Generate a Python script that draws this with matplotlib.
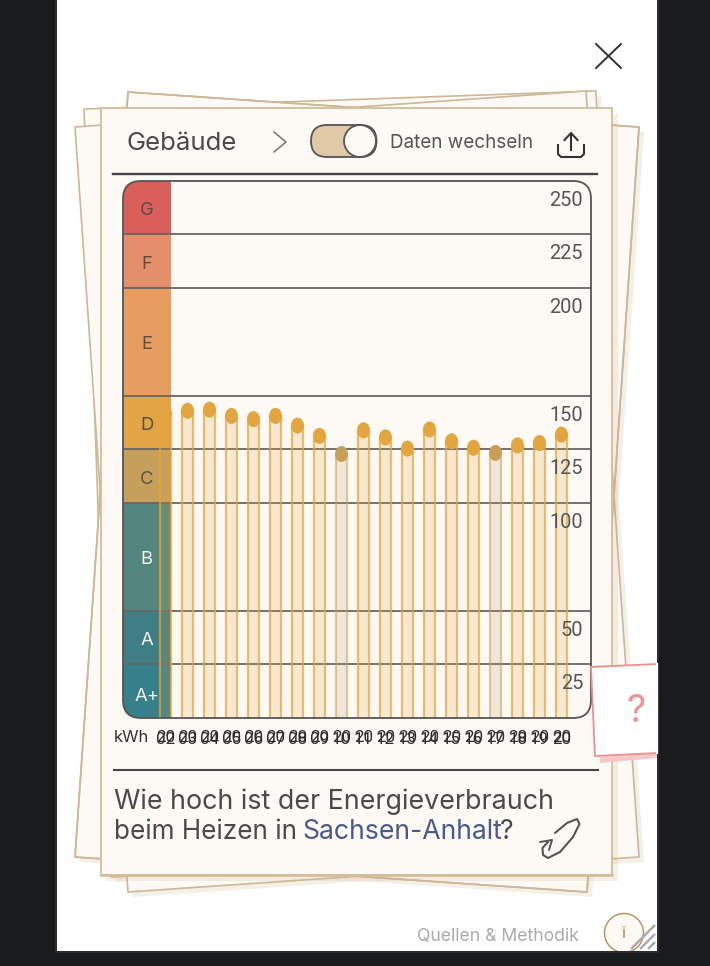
import matplotlib
matplotlib.use("Agg")
import matplotlib.pyplot as plt
from matplotlib.patches import Polygon, Rectangle, FancyBboxPatch, Circle, Ellipse, PathPatch
from matplotlib.path import Path
from matplotlib.transforms import blended_transform_factory

plt.rcParams['font.family'] = ['Inter', 'DejaVu Sans']
NUM_FONT = ['Roboto', 'DejaVu Sans']

# ---- data ----
years = [2002, 2003, 2004, 2005, 2006, 2007, 2008, 2009, 2010, 2011,
         2012, 2013, 2014, 2015, 2016, 2017, 2018, 2019, 2020]
values = [142, 142.9, 143.4, 140.5, 139, 140.5, 136, 131.2, 122.8, 133.8,
          130.5, 125.3, 134.2, 128.7, 125.7, 123.3, 126.8, 127.9, 131.8]
muted_years = [2010, 2017]
year_labels = ['02', '03', '04', '05', '06', '07', '08', '09', '10', '11',
               '12', '13', '14', '15', '16', '17', '18', '19', '20']
grades = ['A+', 'A', 'B', 'C', 'D', 'E', 'F', 'G']
grade_low = [0, 25, 50, 100, 125, 150, 200, 225]
grade_high = [25, 50, 100, 125, 150, 200, 225, 250]
grade_colors = ['#36808b', '#3f7e84', '#52867f', '#c6a05a', '#e3a544', '#e79c60', '#e58e6a', '#d9605a']
grade_text = ['#f4f1ea', '#f4f1ea', '#f4f1ea', '#5a5448', '#5a5040', '#5a5048', '#5a5048', '#5a4a44']
scale_ticks = [25, 50, 100, 125, 150, 200, 225, 250]

PAPER = '#fdf9f5'
EDGE = '#cdb796'
SHADOW = '#f4efe7'
DARK = '#4a4a4a'

fig = plt.figure(figsize=(7.10, 9.66), dpi=100, facecolor='#1a1b1d')

def overlay(z):
    a = fig.add_axes([0, 0, 1, 1], zorder=z)
    a.set_xlim(0, 710)
    a.set_ylim(966, 0)
    a.axis('off')
    a.patch.set_alpha(0)
    return a

bg = overlay(0)
fg = overlay(2)

# ---- page ----
bg.add_patch(Rectangle((55, 0), 604, 953, fc='#2c2c2e', ec='none'))
bg.add_patch(Rectangle((57, 0), 600, 951, fc='white', ec='none'))

papers = [
    [(84, 109), (596, 91), (623, 857), (111, 877)],
    [(128, 92), (639, 127), (587, 892), (75, 857)],
    [(75, 127), (586, 91), (639, 857), (128, 892)],
]
for p in papers:
    bg.add_patch(Polygon([(x + 5, y + 5) for x, y in p], fc=SHADOW, ec='none'))
for p in papers:
    bg.add_patch(Polygon(p, fc=PAPER, ec=EDGE, lw=1.2))
bg.add_patch(Polygon(papers[1], fc='none', ec=EDGE, lw=1.2))

bg.add_patch(Rectangle((106, 114), 512, 767, fc='#c8ad80', alpha=0.18, ec='none'))
bg.add_patch(Rectangle((101, 108), 511, 767, fc=PAPER, ec='#d3bd9a', lw=1.3))
bg.plot([101, 612], [875, 875], color='#d3bd9a', lw=1.9)

# header
bg.text(126, 144, 'Gebäude', fontsize=18.5, color=DARK, va='center', ha='left')
bg.plot([274, 286, 274], [132, 142, 152], color='#777', lw=1.1)
bg.add_patch(FancyBboxPatch((311, 125), 65.5, 32, boxstyle='round,pad=0,rounding_size=16',
                            fc='#e0c9a6', ec='#555', lw=1.3))
bg.add_patch(Circle((360, 141), 16, fc=PAPER, ec='#555', lw=1.3))
bg.text(390, 143, 'Daten wechseln', fontsize=13.6, color='#555', va='center', ha='left')
bg.plot([558, 558, 561, 581, 584, 584], [145, 154, 157, 157, 154, 145], color='#333', lw=1.5)
bg.plot([571, 571], [134, 150], color='#333', lw=1.5)
bg.plot([564.5, 571, 577.5], [140, 133, 140], color='#333', lw=1.5)
bg.plot([113, 597], [174, 174], color='#444', lw=1.7)

# close icon
bg.plot([596, 621], [44, 68], color='#333', lw=1.4)
bg.plot([596, 621], [68, 44], color='#333', lw=1.4)

# bottom question
bg.plot([114, 598], [770, 770], color='#444', lw=1.5)
bg.text(114, 801.5, 'Wie hoch ist der Energieverbrauch', fontsize=19.3, color=DARK, va='center', ha='left')
bg.text(114, 832, 'beim Heizen in', fontsize=18.8, color=DARK, va='center', ha='left')
bg.text(302, 832, 'Sachsen-Anhalt', fontsize=19.2, color='#4a5a8a', va='center', ha='left')
bg.text(500, 832, '?', fontsize=19.2, color=DARK, va='center', ha='left')

# squiggle icon
loop = [(555, 833), (567, 823), (577, 819), (579.5, 824), (573, 837), (560, 852), (548, 858),
        (543, 855), (542.5, 848), (548, 842)]
codes = [Path.MOVETO] + [Path.LINETO] * (len(loop) - 1)
bg.add_patch(PathPatch(Path(loop, codes), fc='none', ec='#555', lw=1.5, capstyle='round', joinstyle='round'))
bg.plot([540, 552, 549], [842, 840, 850], color='#555', lw=1.4, solid_capstyle='round')

# footer
bg.text(417, 936, 'Quellen & Methodik', fontsize=12.7, color='#aaaaaa', va='center', ha='left')
info_clip = Rectangle((57, 0), 600, 951, transform=bg.transData)
c = Circle((624, 933), 19.5, fc=PAPER, ec='#b58f55', lw=1)
bg.add_patch(c)
c.set_clip_path(info_clip)
bg.text(624, 933, 'i', fontsize=12, color='#a8854f', va='center', ha='center')
for x0, x1, y0, y1 in [(631, 655, 949, 925), (640, 655, 949, 934), (648, 655, 949, 942)]:
    bg.plot([x0, x1], [y0, y1], color='#aaaaaa', lw=1.8, solid_capstyle='butt')

# ---- chart ----
frame = FancyBboxPatch((123, 181), 468, 537, boxstyle='round,pad=0,rounding_size=18',
                       fc=PAPER, ec='none')
bg.add_patch(frame)

ax = fig.add_axes([123 / 710, 1 - 718 / 966, 468 / 710, 537.5 / 966], zorder=1)
ax.patch.set_alpha(0)
px = 22.0
x_left = years[0] + (123 - 165.5) / px
x_right = years[0] + (591 - 165.5) / px
ax.set_xlim(x_left, x_right)
ax.set_ylim(0, 250)
for s in ax.spines.values():
    s.set_visible(False)

col_w = 48 / px
for lo, hi, col, name, tc in zip(grade_low, grade_high, grade_colors, grades, grade_text):
    r = ax.bar(x_left, hi - lo, bottom=lo, width=col_w, align='edge', color=col, lw=0, zorder=1)
    r[0].set_clip_path(frame)
    ymid = (lo + hi) / 2 - (1.4 if name != 'A+' else 2.5)
    ax.text(x_left + col_w / 2 - 0.01, ymid, name, color=tc, fontsize=13.3,
            ha='center', va='center', zorder=5)

for t in scale_ticks:
    if t < 250:
        ax.axhline(t, color='#666', lw=1.3, zorder=2)
    ax.text(x_right - 8 / px, t - 9.1, str(t), color='#555', fontsize=14.4, ha='right', va='center',
            zorder=5, family=NUM_FONT)

bar_w = 11.5 / px
for yr, v in zip(years, values):
    muted = yr in muted_years
    fill = '#c6a05a' if muted else '#e3a53f'
    line_alpha = 0.55 if muted else 0.72
    ax.bar(yr, v, width=bar_w, color=fill, alpha=0.2, lw=0, zorder=3)
    ax.plot([yr - bar_w / 2] * 2, [0, v], color=fill, lw=1.6, alpha=line_alpha,
            zorder=3.1, solid_capstyle='butt')
    ax.plot([yr + bar_w / 2] * 2, [0, v], color=fill, lw=1.6, alpha=line_alpha,
            zorder=3.1, solid_capstyle='butt')
    ax.add_patch(Ellipse((yr, v), 13 / px, 16 / 2.148, fc=fill, ec='none', zorder=4))

ax.set_yticks([])
ax.set_xticks(years, labels=year_labels, family=NUM_FONT)
ax.tick_params(axis='x', length=0, pad=10, labelsize=12.2, labelcolor='#2e2e2e')
tr = blended_transform_factory(ax.transData, bg.transData)
for yr in years:
    ax.text(yr + 0.03, 737, '20', transform=tr, fontsize=12.2, color='#2e2e2e', ha='center', va='center',
            clip_on=False, family=NUM_FONT)
ax.text(114, 737, 'kWh', transform=bg.transData, fontsize=12, color='#333', ha='left', va='center', clip_on=False)

# chart frame on top
fg.add_patch(FancyBboxPatch((123, 181), 468, 537, boxstyle='round,pad=0,rounding_size=18',
                            fc='none', ec='#555', lw=1.3))

# pink card
fg.add_patch(Polygon([(600, 757), (657, 752), (657, 758), (600, 763)], fc='#f6c9c9', ec='none'))
fg.add_patch(Polygon([(591, 667), (657, 664), (657, 753), (595, 756)], fc='white', ec='#ee8f8f', lw=1.3))
fg.plot([657, 657], [664, 753], color='white', lw=1.6)
fg.text(636, 712, '?', fontsize=27, color='#f09090', ha='center', va='center')

fig.savefig('out.png', dpi=100, facecolor=fig.get_facecolor())
